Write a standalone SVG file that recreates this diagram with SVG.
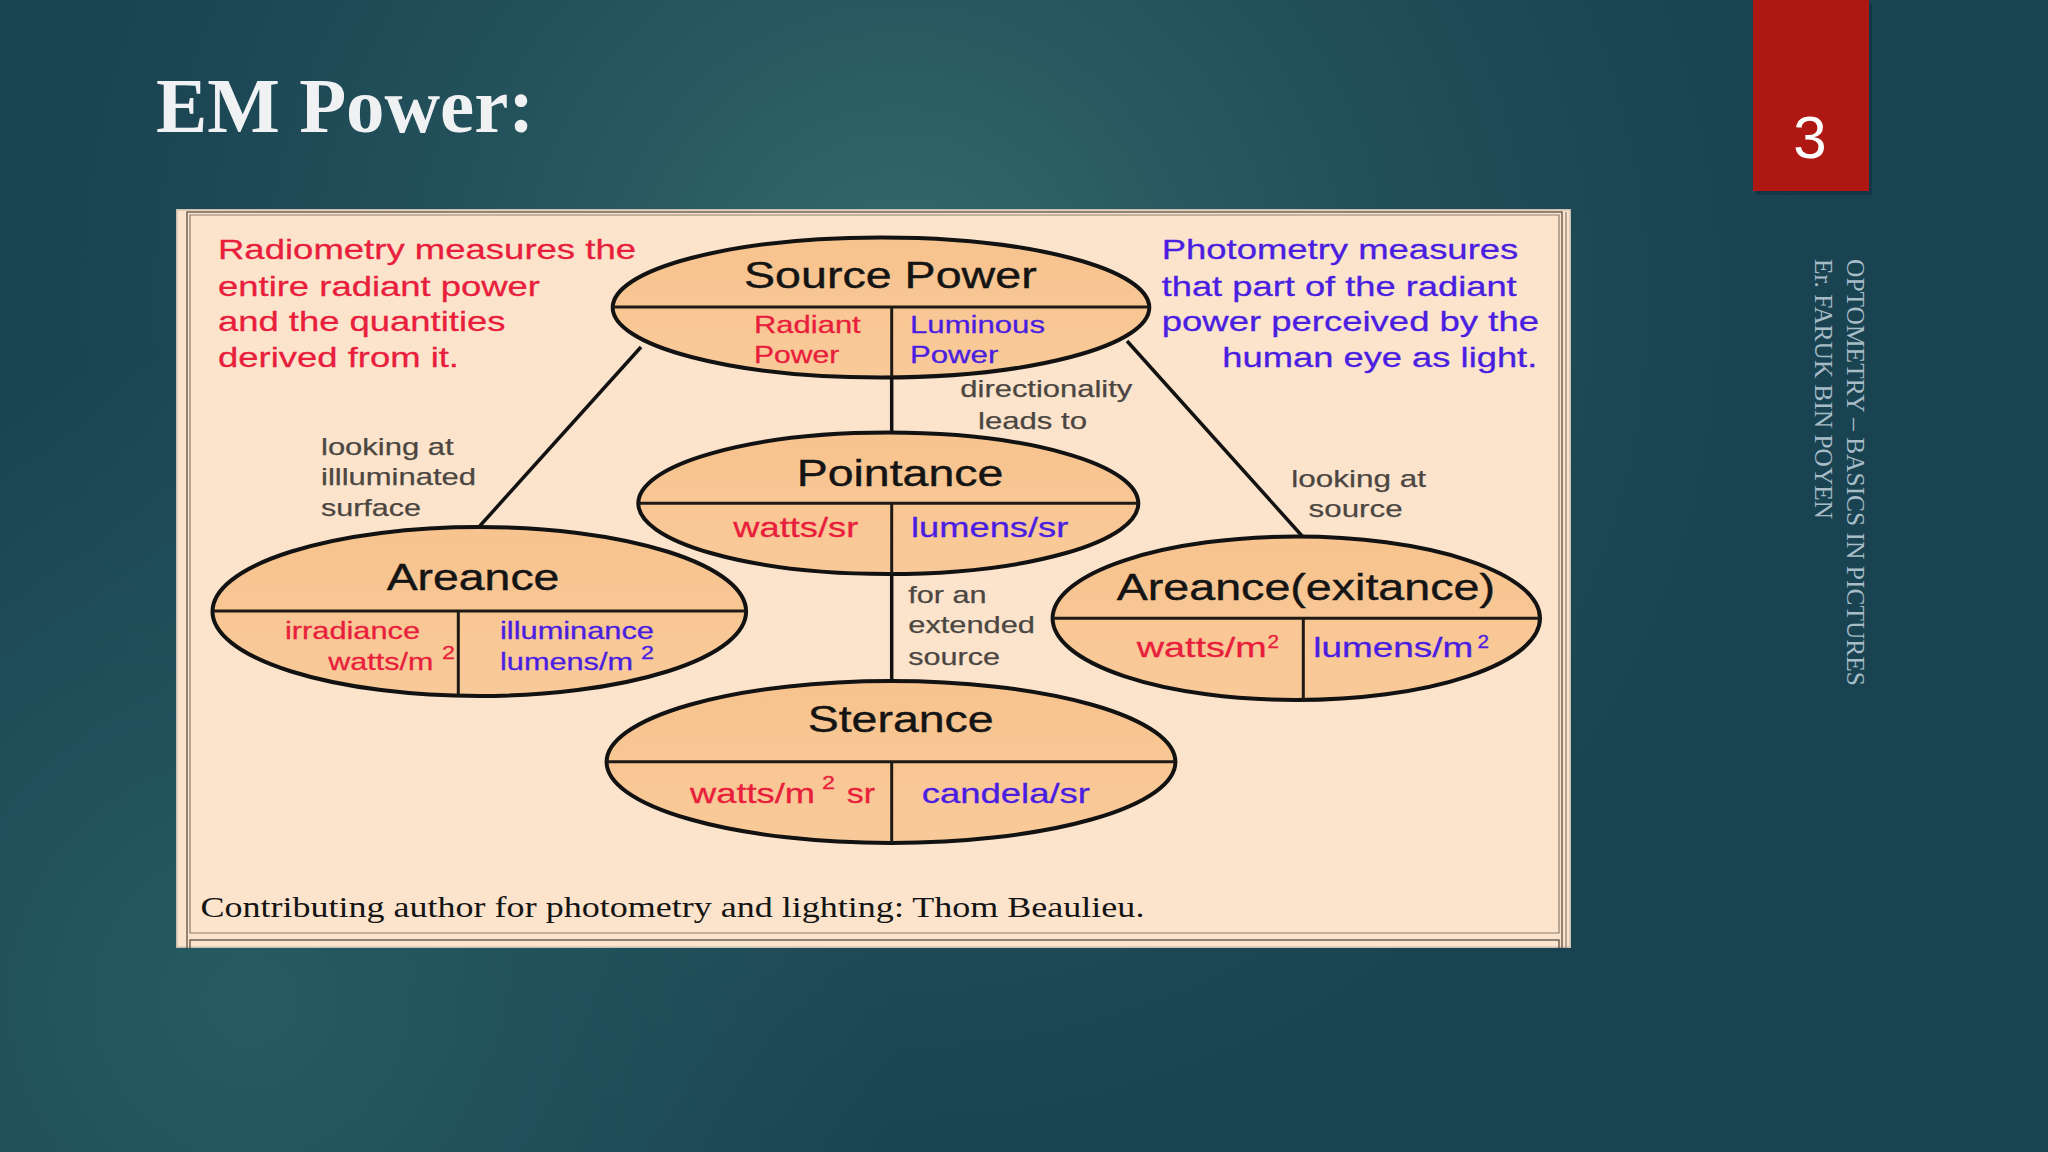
<svg xmlns="http://www.w3.org/2000/svg" width="2048" height="1152" viewBox="0 0 2048 1152">
<defs>
<radialGradient id="bg1" cx="900" cy="300" r="950" gradientUnits="userSpaceOnUse">
<stop offset="0" stop-color="#346c6c"/>
<stop offset="0.6" stop-color="#24535c" stop-opacity="0.6"/>
<stop offset="1" stop-color="#1a4453" stop-opacity="0"/>
</radialGradient>
<radialGradient id="bg2" cx="250" cy="1000" r="650" gradientUnits="userSpaceOnUse">
<stop offset="0" stop-color="#265c62"/>
<stop offset="1" stop-color="#265c62" stop-opacity="0"/>
</radialGradient>
<linearGradient id="eg" x1="0" y1="0" x2="0" y2="1">
<stop offset="0" stop-color="#f7c38e"/>
<stop offset="1" stop-color="#f9ca99"/>
</linearGradient>
<style>
.sans{font-family:"Liberation Sans",Arial,Helvetica,sans-serif}
.serif{font-family:"Liberation Serif","Times New Roman",serif}
.ttl{font-size:36.5px;fill:#141414;stroke:#141414;stroke-width:0.4}
.red{fill:#e81e3c;stroke:#e81e3c;stroke-width:0.3}
.blue{fill:#4a1ee0;stroke:#4a1ee0;stroke-width:0.3}
.note{font-size:24px;fill:#4b4641;stroke:#4b4641;stroke-width:0.25}
.big{font-size:28.5px}
.sm{font-size:24.2px}
.sup{font-size:18px}
.ell{fill:url(#eg);stroke:#121212;stroke-width:4}
.dv{stroke:#1e1a16;stroke-width:3;fill:none}
.con{stroke:#121212;stroke-width:3.5;fill:none}
</style>
</defs>
<rect x="0" y="0" width="2048" height="1152" fill="#1a4352"/>
<rect x="0" y="0" width="2048" height="1152" fill="url(#bg1)"/>
<rect x="0" y="0" width="2048" height="1152" fill="url(#bg2)"/>

<g id="title">
<text class="serif" x="156" y="132" font-size="79" font-weight="bold" fill="#f0f1f3" textLength="378" lengthAdjust="spacingAndGlyphs">EM Power:</text>
</g>

<g id="slide-number">
<rect x="1756" y="4" width="116" height="191" fill="#0b2230" opacity="0.35"/>
<rect x="1753" y="0" width="116" height="191" fill="#ae1712"/>
<text class="sans" x="1810" y="158" font-size="60" fill="#ffffff" text-anchor="middle">3</text>
</g>

<g id="footer-vertical" class="serif" fill="#a6bcc6" font-size="26">
<text transform="translate(1847,259) rotate(90)" x="0" y="0" textLength="427" lengthAdjust="spacingAndGlyphs">OPTOMETRY – BASICS IN PICTURES</text>
<text transform="translate(1815,259) rotate(90)" x="0" y="0" textLength="260" lengthAdjust="spacingAndGlyphs">Er. FARUK BIN POYEN</text>
</g>

<g id="panel">
<rect x="176" y="209" width="1395" height="739" fill="#fce4cc"/>
<rect x="176.75" y="209.75" width="1393.5" height="737.5" fill="none" stroke="#c9bdb0" stroke-width="1.5"/>
<path d="M187,948 V212 H1562 V948" fill="none" stroke="#6e6256" stroke-width="1.5"/>
<path d="M190,933 V215 H1559 V933 Z" fill="none" stroke="#8a7c6e" stroke-width="1.2"/>
<path d="M190,948 V940 H1559 V948" fill="none" stroke="#6e6256" stroke-width="1.5"/>
<path d="M1566,212 V948" fill="none" stroke="#8a7c6e" stroke-width="1.2"/>
</g>

<g id="radiometry-note" class="sans red big">
<text x="218" y="259" textLength="418" lengthAdjust="spacingAndGlyphs">Radiometry measures the</text>
<text x="218" y="295.5" textLength="322" lengthAdjust="spacingAndGlyphs">entire radiant power</text>
<text x="218" y="331" textLength="287.5" lengthAdjust="spacingAndGlyphs">and the quantities</text>
<text x="218" y="366.5" textLength="241" lengthAdjust="spacingAndGlyphs">derived from it.</text>
</g>

<g id="photometry-note" class="sans blue big">
<text x="1161.7" y="259" textLength="356.6" lengthAdjust="spacingAndGlyphs">Photometry measures</text>
<text x="1161.7" y="295.5" textLength="355" lengthAdjust="spacingAndGlyphs">that part of the radiant</text>
<text x="1161.7" y="331" textLength="377.3" lengthAdjust="spacingAndGlyphs">power perceived by the</text>
<text x="1222.3" y="366.5" textLength="315" lengthAdjust="spacingAndGlyphs">human eye as light.</text>
</g>

<g id="connectors">
<line class="con" x1="641" y1="347" x2="478" y2="528"/>
<line class="con" x1="1127" y1="341" x2="1303" y2="537"/>
<line class="con" x1="891.7" y1="376" x2="891.7" y2="434"/>
<line class="con" x1="891.7" y1="572" x2="891.7" y2="682"/>
</g>

<g id="connector-labels" class="sans note">
<text x="321" y="454.5" textLength="132.6" lengthAdjust="spacingAndGlyphs">looking at</text>
<text x="321" y="485" textLength="155" lengthAdjust="spacingAndGlyphs">illluminated</text>
<text x="321" y="515.5" textLength="100" lengthAdjust="spacingAndGlyphs">surface</text>
<text x="960.3" y="396.7" textLength="172" lengthAdjust="spacingAndGlyphs">directionality</text>
<text x="978" y="429.3" textLength="109" lengthAdjust="spacingAndGlyphs">leads to</text>
<text x="1291.3" y="487.3" textLength="134.6" lengthAdjust="spacingAndGlyphs">looking at</text>
<text x="1308.6" y="516.7" textLength="94" lengthAdjust="spacingAndGlyphs">source</text>
<text x="908.3" y="602.7" textLength="78.3" lengthAdjust="spacingAndGlyphs">for an</text>
<text x="908.3" y="633.3" textLength="126.7" lengthAdjust="spacingAndGlyphs">extended</text>
<text x="908.3" y="665" textLength="91.7" lengthAdjust="spacingAndGlyphs">source</text>
</g>

<g id="node-source-power" class="sans">
<ellipse class="ell" cx="881" cy="307.5" rx="268.3" ry="70"/>
<line class="dv" x1="613" y1="307" x2="1149" y2="307"/>
<line class="dv" x1="891.7" y1="307" x2="891.7" y2="377"/>
<text class="ttl" x="744" y="288.3" textLength="292.7" lengthAdjust="spacingAndGlyphs">Source Power</text>
<text class="red sm" x="754" y="333.3" textLength="106.7" lengthAdjust="spacingAndGlyphs">Radiant</text>
<text class="red sm" x="754" y="363.3" textLength="85.3" lengthAdjust="spacingAndGlyphs">Power</text>
<text class="blue sm" x="910" y="333.3" textLength="135" lengthAdjust="spacingAndGlyphs">Luminous</text>
<text class="blue sm" x="910" y="363.3" textLength="88.3" lengthAdjust="spacingAndGlyphs">Power</text>
</g>

<g id="node-pointance" class="sans">
<ellipse class="ell" cx="888.3" cy="503.3" rx="250" ry="70.7"/>
<line class="dv" x1="639" y1="503.3" x2="1138" y2="503.3"/>
<line class="dv" x1="891.7" y1="503.3" x2="891.7" y2="574"/>
<text class="ttl" x="796.7" y="486" textLength="206.7" lengthAdjust="spacingAndGlyphs">Pointance</text>
<text class="red big" x="733.3" y="537.3" textLength="125" lengthAdjust="spacingAndGlyphs">watts/sr</text>
<text class="blue big" x="911" y="537.3" textLength="157.3" lengthAdjust="spacingAndGlyphs">lumens/sr</text>
</g>

<g id="node-areance" class="sans">
<ellipse class="ell" cx="479.3" cy="611.5" rx="266.8" ry="84.5"/>
<line class="dv" x1="213" y1="611" x2="746" y2="611"/>
<line class="dv" x1="458.3" y1="611" x2="458.3" y2="695.5"/>
<text class="ttl" x="386.7" y="590" textLength="172.7" lengthAdjust="spacingAndGlyphs">Areance</text>
<text class="red sm" x="285" y="639.3" textLength="135" lengthAdjust="spacingAndGlyphs">irradiance</text>
<text class="red sm" x="328.3" y="670" textLength="105" lengthAdjust="spacingAndGlyphs">watts/m</text>
<text class="red sup" x="442" y="659" textLength="13" lengthAdjust="spacingAndGlyphs">2</text>
<text class="blue sm" x="500" y="639.3" textLength="154" lengthAdjust="spacingAndGlyphs">illuminance</text>
<text class="blue sm" x="500" y="670" textLength="133" lengthAdjust="spacingAndGlyphs">lumens/m</text>
<text class="blue sup" x="641" y="659" textLength="13" lengthAdjust="spacingAndGlyphs">2</text>
</g>

<g id="node-areance-exitance" class="sans">
<ellipse class="ell" cx="1296.3" cy="618.3" rx="243.7" ry="81.7"/>
<line class="dv" x1="1053" y1="618.3" x2="1540" y2="618.3"/>
<line class="dv" x1="1303.3" y1="618.3" x2="1303.3" y2="700"/>
<text class="ttl" x="1116.7" y="600" textLength="378.3" lengthAdjust="spacingAndGlyphs">Areance(exitance)</text>
<text class="red big" x="1136.7" y="656.7" textLength="130" lengthAdjust="spacingAndGlyphs">watts/m</text>
<text class="red sup" x="1267.5" y="648" textLength="11.5" lengthAdjust="spacingAndGlyphs">2</text>
<text class="blue big" x="1313.3" y="656.7" textLength="160" lengthAdjust="spacingAndGlyphs">lumens/m</text>
<text class="blue sup" x="1477.5" y="648" textLength="11.5" lengthAdjust="spacingAndGlyphs">2</text>
</g>

<g id="node-sterance" class="sans">
<ellipse class="ell" cx="891" cy="762" rx="284.4" ry="81"/>
<line class="dv" x1="607" y1="761.7" x2="1175" y2="761.7"/>
<line class="dv" x1="891.7" y1="761.7" x2="891.7" y2="843"/>
<text class="ttl" x="807.7" y="732" textLength="186" lengthAdjust="spacingAndGlyphs">Sterance</text>
<text class="red big" x="690" y="803.3" textLength="125" lengthAdjust="spacingAndGlyphs">watts/m</text>
<text class="red sup" x="822" y="789" textLength="13" lengthAdjust="spacingAndGlyphs">2</text>
<text class="red big" x="846.7" y="803.3" textLength="28.3" lengthAdjust="spacingAndGlyphs">sr</text>
<text class="blue big" x="921.7" y="803.3" textLength="168.3" lengthAdjust="spacingAndGlyphs">candela/sr</text>
</g>

<g id="caption">
<text class="serif" x="200.4" y="917" font-size="29.5" fill="#141414" textLength="944" lengthAdjust="spacingAndGlyphs">Contributing author for photometry and lighting: Thom Beaulieu.</text>
</g>
</svg>
